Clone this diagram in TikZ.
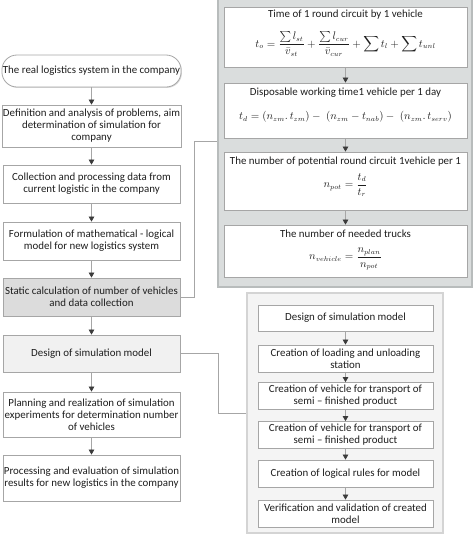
\documentclass[tikz,border=0pt]{standalone}
\usepackage{amsmath}
\usepackage{fontspec}
\setmainfont{Carlito}
\usetikzlibrary{arrows.meta,shadows}
\definecolor{boxline}{HTML}{A6A6A6}
\definecolor{upfill}{HTML}{DADDDD}
\definecolor{upline}{HTML}{B8BCBC}
\definecolor{lofill}{HTML}{F4F4F4}
\definecolor{loline}{HTML}{D4D4D4}
\definecolor{statfill}{HTML}{DCDCDC}
\definecolor{desfill}{HTML}{F1F1F1}
\definecolor{tipc}{HTML}{3A3A3A}
\definecolor{txt}{HTML}{1E1E1E}
\tikzset{
  box/.style={draw=boxline, line width=0.8pt, fill=white, align=center, text=txt,
    font=\fontsize{10.9}{12}\selectfont, inner sep=1pt,
    drop shadow={shadow xshift=0.9pt, shadow yshift=-0.9pt, fill=black!30, opacity=0.5}},
  leftbox/.style={box, minimum width=177pt},
  upbox/.style={box, minimum width=243pt},
  lobox/.style={box, minimum width=175pt},
  title/.style={text=txt, font=\fontsize{10.9}{12}\selectfont, inner sep=0pt},
  formula/.style={text=txt, font=\fontsize{10.5}{12}\selectfont, inner sep=0pt},
  flow/.style={draw=boxline, line width=0.7pt, -{Triangle[length=5pt,width=5.5pt,color=tipc,fill=tipc]}},
  link/.style={draw=boxline, line width=0.7pt},
}
\begin{document}
\begin{tikzpicture}[x=1pt,y=-1pt]
\useasboundingbox (0,0) rectangle (474,542);
% panels
\node[draw=upline, line width=2.2pt, fill=upfill, minimum width=254pt, minimum height=291pt, inner sep=0pt] (up) at (345,141.5) {};
\node[draw=loline, line width=1.2pt, fill=lofill, minimum width=196pt, minimum height=240pt, inner sep=0pt] (lo) at (345,413) {};
% left column
\node[leftbox, rounded corners=15pt, minimum height=32pt] (a1) at (91.5,71) {The real logistics system in the company};
\node[leftbox, minimum height=42pt] (a2) at (91.5,126) {Definition and analysis of problems, aim\\determination of simulation for\\company};
\node[leftbox, minimum height=38pt] (a3) at (91.5,184) {Collection and processing data from\\current logistic in the company};
\node[leftbox, minimum height=38pt] (a4) at (91.5,241) {Formulation of mathematical - logical\\model for new logistics system};
\node[leftbox, minimum height=38pt, fill=statfill] (a5) at (91.5,297) {Static calculation of number of vehicles\\and data collection};
\node[leftbox, minimum height=37pt, fill=desfill] (a6) at (91.5,353.5) {Design of simulation model};
\node[leftbox, minimum height=45pt] (a7) at (91.5,414.5) {Planning and realization of simulation\\experiments for determination number\\of vehicles};
\node[leftbox, minimum height=46pt] (a8) at (91.5,478) {Processing and evaluation of simulation\\results for new logistics in the company};
\foreach \p/\q in {a1/a2,a2/a3,a3/a4,a4/a5,a5/a6,a6/a7,a7/a8}
  \draw[flow] (\p.south) -- (\q.north);
% upper right boxes
\node[upbox, minimum height=60pt] (u1) at (345.5,37) {};
\node[title] (u1t) at (345.5,15) {Time of 1 round circuit by 1 vehicle};
\node[formula] (u1f) at (345.5,44) {$\displaystyle t_o=\frac{\sum l_{st}}{\bar{v}_{st}}+\frac{\sum l_{cur}}{\bar{v}_{cur}}+\sum t_l+\sum t_{unl}$};
\node[upbox, minimum height=55pt] (u2) at (345.5,110.5) {};
\node[title] (u2t) at (345.5,93) {Disposable working time1 vehicle per 1 day};
\node[formula] (u2f) at (345.5,117) {$t_d=(n_{zm}.\,t_{zm})-\;(n_{zm}-t_{nab})-\;(n_{zm}.\,t_{serv})$};
\node[upbox, minimum height=58pt] (u3) at (345.5,181) {};
\node[title] (u3t) at (345.5,162) {The number of potential round circuit 1vehicle per 1};
\node[formula] (u3f) at (345.5,185) {$\displaystyle n_{pot}=\frac{t_d}{t_r}$};
\node[upbox, minimum height=52pt] (u4) at (345.5,251) {};
\node[title] (u4t) at (345.5,234) {The number of needed trucks};
\node[formula] (u4f) at (345.5,259) {$\displaystyle n_{vehicle}=\frac{n_{plan}}{n_{pot}}$};
\foreach \p/\q in {u1/u2,u2/u3,u3/u4}
  \draw[flow] (\p.south) -- (\q.north);
% lower right boxes
\node[lobox, minimum height=26pt] (l1) at (345.5,318) {Design of simulation model};
\node[lobox, minimum height=27pt] (l2) at (345.5,358.5) {Creation of loading and unloading\\station};
\node[lobox, minimum height=27pt] (l3) at (345.5,396) {Creation of vehicle for transport of\\semi -- finished product};
\node[lobox, minimum height=27pt] (l4) at (345.5,435) {Creation of vehicle for transport of\\semi -- finished product};
\node[lobox, minimum height=27pt] (l5) at (345.5,473.5) {Creation of logical rules for model};
\node[lobox, minimum height=27pt] (l6) at (345.5,513.5) {Verification and validation of created\\model};
\foreach \p/\q in {l1/l2,l2/l3,l3/l4,l4/l5,l5/l6}
  \draw[flow] (\p.south) -- (\q.north);
% side links
\draw[link] (a5.east) -- ++(14,0) |- (up.west);
\draw[link] (a6.east) -- ++(38,0) |- (lo.west);
\end{tikzpicture}
\end{document}
